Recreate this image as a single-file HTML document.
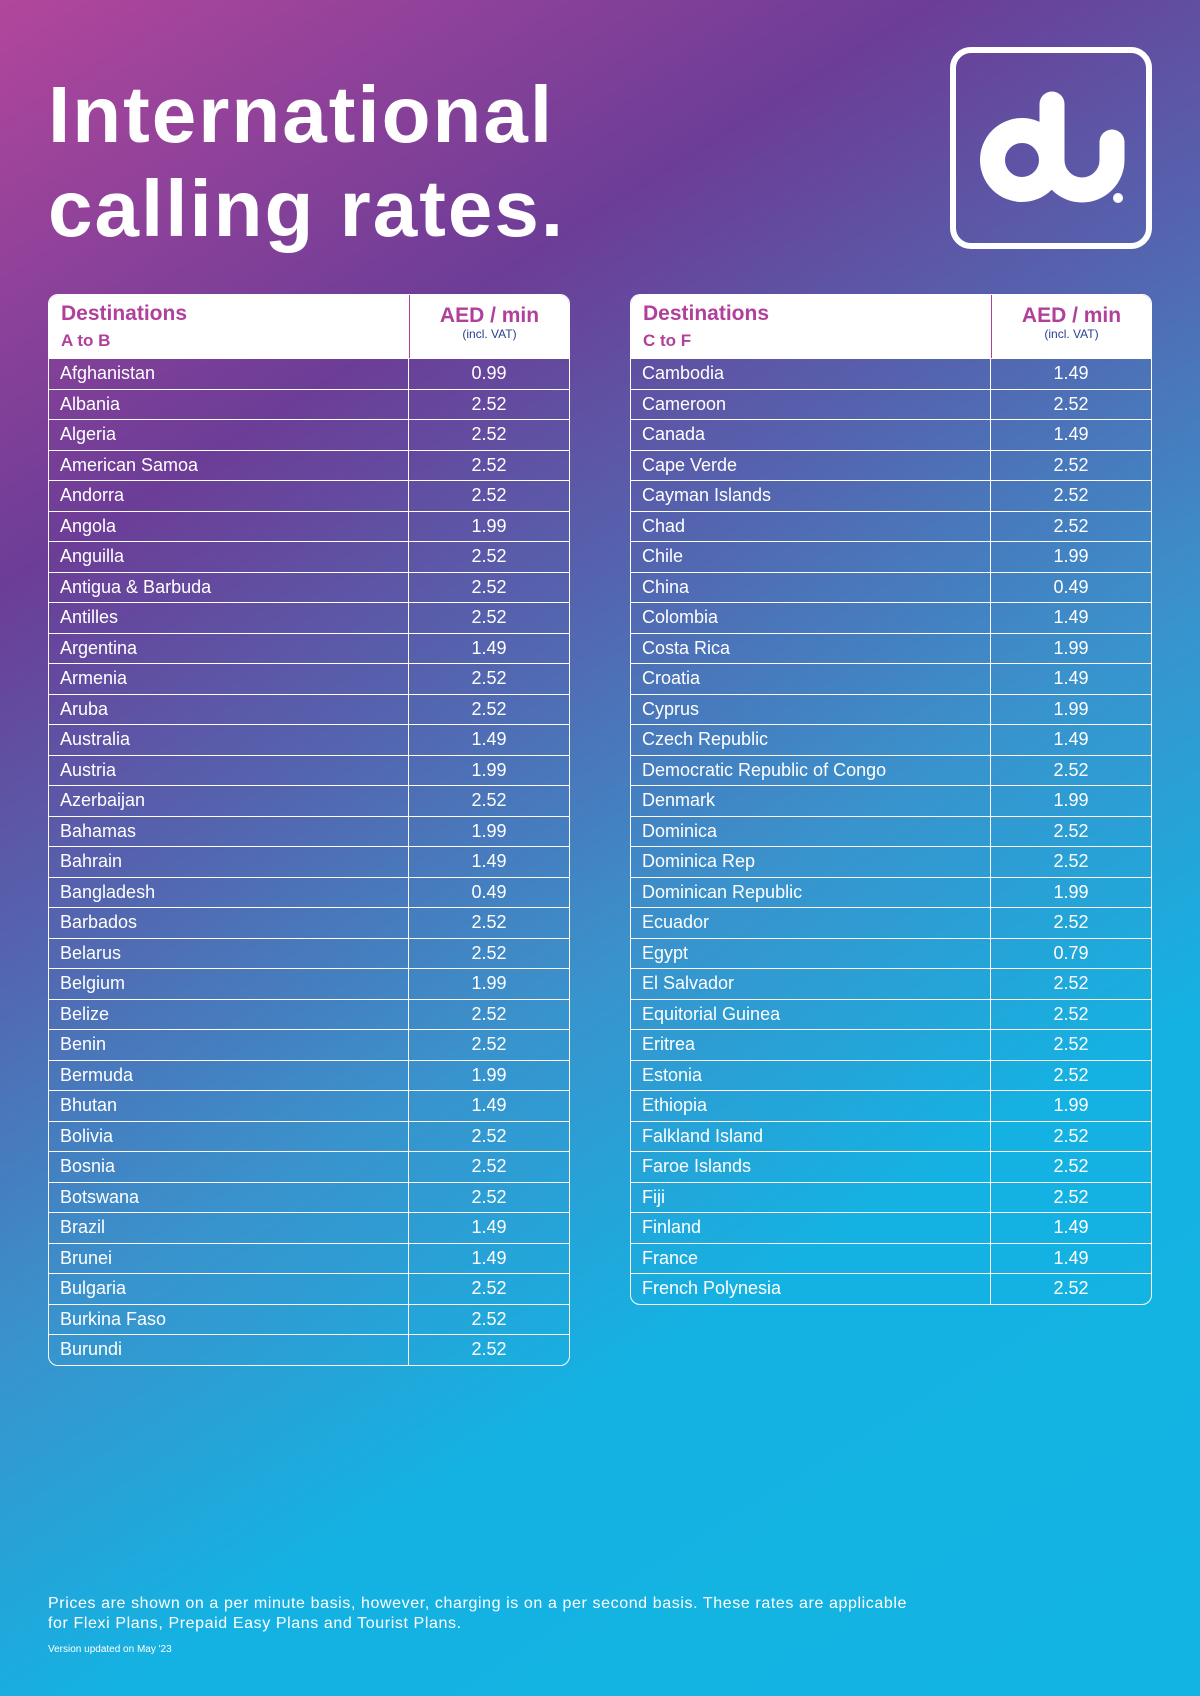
<!DOCTYPE html>
<html><head><meta charset="utf-8"><style>
*{margin:0;padding:0;box-sizing:border-box}
body{width:1200px;height:1696px;position:relative;overflow:hidden;font-family:"Liberation Sans",sans-serif;color:#fff;
background:linear-gradient(148deg,#b2469c 0%,#6c3d97 24%,#5366b0 40%,#3a92cc 55%,#14b2e2 72%,#12b4e3 100%);}
.title{position:absolute;left:48px;top:68px;font-size:80px;font-weight:bold;line-height:94px;letter-spacing:2px}
.tbl{position:absolute;top:294px;width:522px;border:1.5px solid #fff;border-radius:10px;overflow:hidden}
.hd{height:63px;background:#fff;position:relative}
.hd .d{position:absolute;left:12px;top:6px;color:#b2409a;font-weight:bold;font-size:21px;line-height:26px}
.hd .d span{font-size:17px}
.hd .v{position:absolute;left:360px;top:0;width:160px;height:63px;border-left:1.5px solid #b2409a;text-align:center;color:#b2409a;font-weight:bold;font-size:21px;padding-top:10px;line-height:22px}
.hd .v small{display:block;font-size:12px;color:#2a4090;font-weight:normal;line-height:14px}
.r{height:30.5px;border-top:1.5px solid #fff;display:flex;font-size:18px;line-height:28px}
.r .n{width:360px;padding-left:11px;border-right:1.5px solid #fff}
.r .p{flex:1;text-align:center}
.foot{position:absolute;left:48px;top:1594px;font-size:16px;line-height:20px;letter-spacing:0.6px}
.ver{position:absolute;left:48px;top:1644px;font-size:10px}
</style></head><body>
<div class="title">International<br>calling rates.</div>
<svg style="position:absolute;left:0;top:0" width="1200" height="300">
<rect x="953" y="50" width="196" height="196" rx="18" fill="none" stroke="#fff" stroke-width="6"/>
<circle cx="1022" cy="160" r="29.5" fill="none" stroke="#fff" stroke-width="25"/>
<line x1="1052" y1="104" x2="1052" y2="160" stroke="#fff" stroke-width="25" stroke-linecap="round"/>
<path d="M1052 160 A30 30 0 0 0 1112 160 L1112 142" fill="none" stroke="#fff" stroke-width="25" stroke-linecap="round"/>
<circle cx="1118" cy="198" r="5" fill="#fff"/>
</svg>
<div class="tbl" style="left:48px">
<div class="hd"><div class="d">Destinations<br><span>A to B</span></div><div class="v">AED / min<small>(incl. VAT)</small></div></div>
<div class="r"><div class="n">Afghanistan</div><div class="p">0.99</div></div>
<div class="r"><div class="n">Albania</div><div class="p">2.52</div></div>
<div class="r"><div class="n">Algeria</div><div class="p">2.52</div></div>
<div class="r"><div class="n">American Samoa</div><div class="p">2.52</div></div>
<div class="r"><div class="n">Andorra</div><div class="p">2.52</div></div>
<div class="r"><div class="n">Angola</div><div class="p">1.99</div></div>
<div class="r"><div class="n">Anguilla</div><div class="p">2.52</div></div>
<div class="r"><div class="n">Antigua &amp; Barbuda</div><div class="p">2.52</div></div>
<div class="r"><div class="n">Antilles</div><div class="p">2.52</div></div>
<div class="r"><div class="n">Argentina</div><div class="p">1.49</div></div>
<div class="r"><div class="n">Armenia</div><div class="p">2.52</div></div>
<div class="r"><div class="n">Aruba</div><div class="p">2.52</div></div>
<div class="r"><div class="n">Australia</div><div class="p">1.49</div></div>
<div class="r"><div class="n">Austria</div><div class="p">1.99</div></div>
<div class="r"><div class="n">Azerbaijan</div><div class="p">2.52</div></div>
<div class="r"><div class="n">Bahamas</div><div class="p">1.99</div></div>
<div class="r"><div class="n">Bahrain</div><div class="p">1.49</div></div>
<div class="r"><div class="n">Bangladesh</div><div class="p">0.49</div></div>
<div class="r"><div class="n">Barbados</div><div class="p">2.52</div></div>
<div class="r"><div class="n">Belarus</div><div class="p">2.52</div></div>
<div class="r"><div class="n">Belgium</div><div class="p">1.99</div></div>
<div class="r"><div class="n">Belize</div><div class="p">2.52</div></div>
<div class="r"><div class="n">Benin</div><div class="p">2.52</div></div>
<div class="r"><div class="n">Bermuda</div><div class="p">1.99</div></div>
<div class="r"><div class="n">Bhutan</div><div class="p">1.49</div></div>
<div class="r"><div class="n">Bolivia</div><div class="p">2.52</div></div>
<div class="r"><div class="n">Bosnia</div><div class="p">2.52</div></div>
<div class="r"><div class="n">Botswana</div><div class="p">2.52</div></div>
<div class="r"><div class="n">Brazil</div><div class="p">1.49</div></div>
<div class="r"><div class="n">Brunei</div><div class="p">1.49</div></div>
<div class="r"><div class="n">Bulgaria</div><div class="p">2.52</div></div>
<div class="r"><div class="n">Burkina Faso</div><div class="p">2.52</div></div>
<div class="r"><div class="n">Burundi</div><div class="p">2.52</div></div>
</div>
<div class="tbl" style="left:630px">
<div class="hd"><div class="d">Destinations<br><span>C to F</span></div><div class="v">AED / min<small>(incl. VAT)</small></div></div>
<div class="r"><div class="n">Cambodia</div><div class="p">1.49</div></div>
<div class="r"><div class="n">Cameroon</div><div class="p">2.52</div></div>
<div class="r"><div class="n">Canada</div><div class="p">1.49</div></div>
<div class="r"><div class="n">Cape Verde</div><div class="p">2.52</div></div>
<div class="r"><div class="n">Cayman Islands</div><div class="p">2.52</div></div>
<div class="r"><div class="n">Chad</div><div class="p">2.52</div></div>
<div class="r"><div class="n">Chile</div><div class="p">1.99</div></div>
<div class="r"><div class="n">China</div><div class="p">0.49</div></div>
<div class="r"><div class="n">Colombia</div><div class="p">1.49</div></div>
<div class="r"><div class="n">Costa Rica</div><div class="p">1.99</div></div>
<div class="r"><div class="n">Croatia</div><div class="p">1.49</div></div>
<div class="r"><div class="n">Cyprus</div><div class="p">1.99</div></div>
<div class="r"><div class="n">Czech Republic</div><div class="p">1.49</div></div>
<div class="r"><div class="n">Democratic Republic of Congo</div><div class="p">2.52</div></div>
<div class="r"><div class="n">Denmark</div><div class="p">1.99</div></div>
<div class="r"><div class="n">Dominica</div><div class="p">2.52</div></div>
<div class="r"><div class="n">Dominica Rep</div><div class="p">2.52</div></div>
<div class="r"><div class="n">Dominican Republic</div><div class="p">1.99</div></div>
<div class="r"><div class="n">Ecuador</div><div class="p">2.52</div></div>
<div class="r"><div class="n">Egypt</div><div class="p">0.79</div></div>
<div class="r"><div class="n">El Salvador</div><div class="p">2.52</div></div>
<div class="r"><div class="n">Equitorial Guinea</div><div class="p">2.52</div></div>
<div class="r"><div class="n">Eritrea</div><div class="p">2.52</div></div>
<div class="r"><div class="n">Estonia</div><div class="p">2.52</div></div>
<div class="r"><div class="n">Ethiopia</div><div class="p">1.99</div></div>
<div class="r"><div class="n">Falkland Island</div><div class="p">2.52</div></div>
<div class="r"><div class="n">Faroe Islands</div><div class="p">2.52</div></div>
<div class="r"><div class="n">Fiji</div><div class="p">2.52</div></div>
<div class="r"><div class="n">Finland</div><div class="p">1.49</div></div>
<div class="r"><div class="n">France</div><div class="p">1.49</div></div>
<div class="r"><div class="n">French Polynesia</div><div class="p">2.52</div></div>
</div>
<div class="foot">Prices are shown on a per minute basis, however, charging is on a per second basis. These rates are applicable<br>for Flexi Plans, Prepaid Easy Plans and Tourist Plans.</div>
<div class="ver">Version updated on May '23</div>
</body></html>
